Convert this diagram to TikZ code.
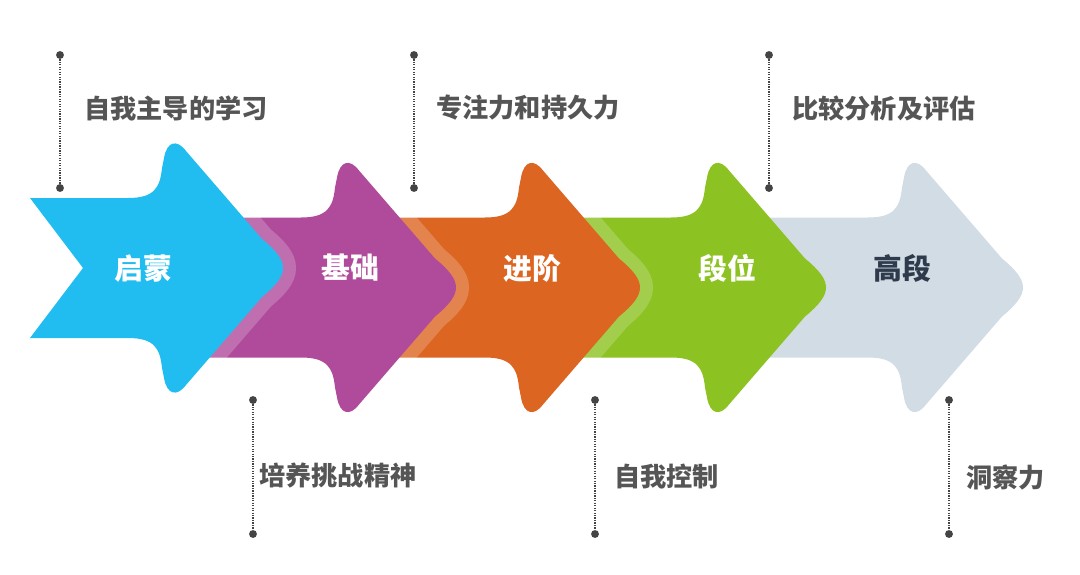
\documentclass[tikz,border=0pt]{standalone}
\usepackage{fontspec}
\newfontfamily\cjk{Noto Sans CJK SC}
\definecolor{cblue}{HTML}{22BDF0}
\definecolor{cpurple}{HTML}{B04B9B}
\definecolor{corange}{HTML}{DC6522}
\definecolor{cgreen}{HTML}{8CC221}
\definecolor{cgray}{HTML}{D2DCE5}
\definecolor{cnavy}{HTML}{2F3B4C}
\definecolor{clabel}{HTML}{555555}
\definecolor{cline}{HTML}{444444}
\newcommand\arrowshape[4]{%
(#3,#2-70) -- (#1-42,#2-70) .. controls (#1-16,#2-70) and (#1-10,#2-80) .. (#1-8,#2-100)
-- (#1-6,#2-110) .. controls (#1-3,#2-127) and (#1+7,#2-129) .. (#1+16,#2-117)
-- (#1+92,#2-29) .. controls (#1+120,#2-6) and (#1+120,#2+6) .. (#1+92,#2+29)
-- (#1+16,#2+117) .. controls (#1+7,#2+129) and (#1-3,#2+127) .. (#1-6,#2+110)
-- (#1-8,#2+100) .. controls (#1-10,#2+80) and (#1-16,#2+70) .. (#1-42,#2+70)
-- (#3,#2+70) -- (#3+#4,#2) -- cycle}
\tikzset{
  halo/.style={draw=white, draw opacity=0.2, line width=0.52cm},
  stagelabel/.style={font=\cjk\bfseries\fontsize{16.4}{16.4}\selectfont, text=white, inner sep=0pt},
  desc/.style={font=\cjk\bfseries\fontsize{14.9}{14.9}\selectfont, text=clabel, inner sep=0pt, anchor=west},
  enddot/.style={circle, fill=cline, inner sep=0pt, minimum size=4.5pt},
  dotline/.style={draw=cline, line width=0.7pt, dash pattern=on 0.7pt off 0.7pt},
}
\begin{document}
\begin{tikzpicture}[x=0.02cm, y=-0.02cm]
\useasboundingbox (0,0) rectangle (1080,575);
% arrows, back to front
\fill[cgray] \arrowshape{910}{287.5}{760}{0};
\fill[cgreen] \arrowshape{713}{287.5}{575}{0};
\path[halo] \arrowshape{527}{287.5}{385}{0};
\fill[corange] \arrowshape{527}{287.5}{385}{0};
\path[halo] \arrowshape{343}{287.5}{200}{0};
\fill[cpurple] \arrowshape{343}{287.5}{200}{0};
\path[halo] \arrowshape{170}{268}{30}{53};
\fill[cblue] \arrowshape{170}{268}{30}{53};
% stage labels
\node[stagelabel] (s1) at (143,269) {启蒙};
\node[stagelabel] (s2) at (350,268) {基础};
\node[stagelabel] (s3) at (532,268) {进阶};
\node[stagelabel] (s4) at (727,268) {段位};
\node[stagelabel, text=cnavy] (s5) at (902,268) {高段};
% top callouts
\node[enddot] (a1) at (60,55) {};  \node[enddot] (b1) at (60,188) {};
\node[enddot] (a2) at (414,55) {}; \node[enddot] (b2) at (414,188) {};
\node[enddot] (a3) at (769,55) {}; \node[enddot] (b3) at (769,188) {};
\draw[dotline] (a1) -- (b1);
\draw[dotline] (a2) -- (b2);
\draw[dotline] (a3) -- (b3);
\node[desc] (d1) at (84,108) {自我主导的学习};
\node[desc] (d2) at (436,108) {专注力和持久力};
\node[desc] (d3) at (792,108) {比较分析及评估};
% bottom callouts
\node[enddot] (a4) at (253,400) {}; \node[enddot] (b4) at (253,534) {};
\node[enddot] (a5) at (595,400) {}; \node[enddot] (b5) at (595,534) {};
\node[enddot] (a6) at (949,400) {}; \node[enddot] (b6) at (949,534) {};
\draw[dotline] (a4) -- (b4);
\draw[dotline] (a5) -- (b5);
\draw[dotline] (a6) -- (b6);
\node[desc] (d4) at (259,475) {培养挑战精神};
\node[desc] (d5) at (614,477) {自我控制};
\node[desc] (d6) at (966,477) {洞察力};
\end{tikzpicture}
\end{document}
